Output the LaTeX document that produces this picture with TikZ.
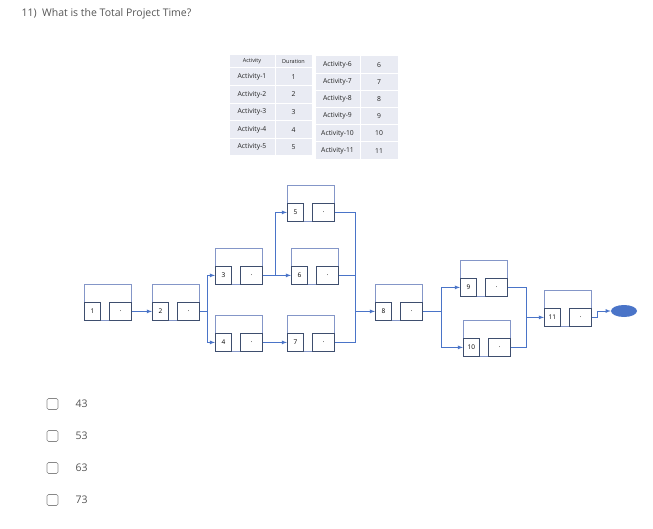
\documentclass[tikz,border=0pt]{standalone}
\usepackage{fontspec}
\setmainfont{Open Sans}
\usetikzlibrary{shapes.geometric}
\begin{document}
\begin{tikzpicture}[x=1pt,y=-1pt,
  outer/.style={draw=boxc,line width=0.8pt,inner sep=0,minimum width=47pt,minimum height=36pt,anchor=north west},
  numb/.style={draw=boxd,line width=0.8pt,inner sep=0,minimum width=16pt,minimum height=18pt,anchor=north west,font=\fontsize{6.5}{7}\selectfont},
  dotb/.style={draw=boxd,line width=0.8pt,inner sep=0,minimum width=22pt,minimum height=18pt,anchor=north west,font=\fontsize{6.5}{7}\selectfont},
  con/.style={draw=linec,line width=0.8pt},
  arr/.style={con,-latex},
  cell/.style={fill=cellc,draw=white,line width=1pt},
  tt/.style={font=\fontsize{6.8}{7}\selectfont,text=txtc},
  th/.style={font=\fontsize{5.5}{6}\selectfont,text=txtc}]
\definecolor{boxc}{HTML}{8496C8}
\definecolor{boxd}{HTML}{3E4E6E}
\definecolor{linec}{HTML}{4A74C8}
\definecolor{cellc}{HTML}{E9EBF3}
\definecolor{txtc}{HTML}{222222}
\definecolor{qc}{HTML}{555555}
\useasboundingbox (0,0) rectangle (653,529);
\node[anchor=west,text=qc,font=\fontsize{10.5}{12}\selectfont] (title) at (18,14) {11)\ \ What is the Total Project Time?};
\fill[cell] (229,55) rectangle (275,68); \fill[cell] (275,55) rectangle (312,68);
\node[th] (h1) at (252,61.5) {Activity}; \node[th] (h2) at (293.5,61.5) {Duration};
\foreach \k in {1,...,5} {
  \pgfmathsetmacro{\ya}{68+(\k-1)*17.6}
  \pgfmathsetmacro{\yb}{\ya+17.6}
  \fill[cell] (229,\ya) rectangle (275,\yb); \fill[cell] (275,\ya) rectangle (312,\yb);
  \node[tt] (la\k) at (252,\ya+8.8) {Activity-\k};
  \node[tt] (lb\k) at (293.5,\ya+8.8) {\k};
}
\foreach \k [count=\j from 0] in {6,...,11} {
  \pgfmathsetmacro{\ya}{56+\j*17.2}
  \pgfmathsetmacro{\yb}{\ya+17.2}
  \fill[cell] (315,\ya) rectangle (360,\yb); \fill[cell] (360,\ya) rectangle (398,\yb);
  \node[tt] (ra\k) at (337.5,\ya+8.6) {Activity-\k};
  \node[tt] (rb\k) at (379,\ya+8.6) {\k};
}
% boxes
\foreach \n/\x/\y in {1/84/284,2/152/284,3/215/248,4/215/315,5/287/185,6/291/248,7/287/315,8/375/284,9/460/260,10/463/320,11/544/290} {
  \node[outer] (o\n) at (\x,\y) {};
  \node[numb] (n\n) at (\x,\y+18) {\n};
  \node[dotb] (d\n) at (\x+25,\y+18) {.};
}
% connectors
\draw[arr] (d1.east) -- (n2.west);
\coordinate (s2) at (207,0);
\draw[arr] (d2.east) -| (s2 |- n3.west) -- (n3.west);
\draw[arr] (d2.east) -| (s2 |- n4.west) -- (n4.west);
\coordinate (s3) at (275,0);
\draw[arr] (d3.east) -| (s3 |- n5.west) -- (n5.west);
\draw[arr] (d3.east) -- (n6.west);
\draw[arr] (d4.east) -- (n7.west);
\coordinate (m8) at (355,0);
\draw[con] (d5.east) -| (m8 |- d7.east) -- (d7.east);
\draw[con] (d6.east) -- (m8 |- d6.east);
\draw[arr] (m8 |- n8.west) -- (n8.west);
\coordinate (s8) at (441,0);
\draw[arr] (d8.east) -| (s8 |- n9.west) -- (n9.west);
\draw[arr] (d8.east) -| (s8 |- n10.west) -- (n10.west);
\coordinate (m11) at (526,0);
\draw[con] (d9.east) -| (m11 |- d10.east) -- (d10.east);
\draw[arr] (m11 |- n11.west) -- (n11.west);
\node[ellipse,fill=linec,minimum width=26pt,minimum height=12pt,inner sep=0] (end) at (624,311) {};
\coordinate (e1) at (597,0);
\draw[arr] (d11.east) -| (e1 |- end.west) -- (end.west);
% choices
\foreach \v [count=\i from 0] in {43,53,63,73} {
  \node[draw=qc!70,rounded corners=1.5pt,minimum size=11pt,inner sep=0,line width=0.7pt] (c\v) at (52.5,404+\i*32) {};
  \node[anchor=west,text=qc,font=\fontsize{10.5}{12}\selectfont] (t\v) at (72,404+\i*32) {\v};
}
\end{tikzpicture}
\end{document}
